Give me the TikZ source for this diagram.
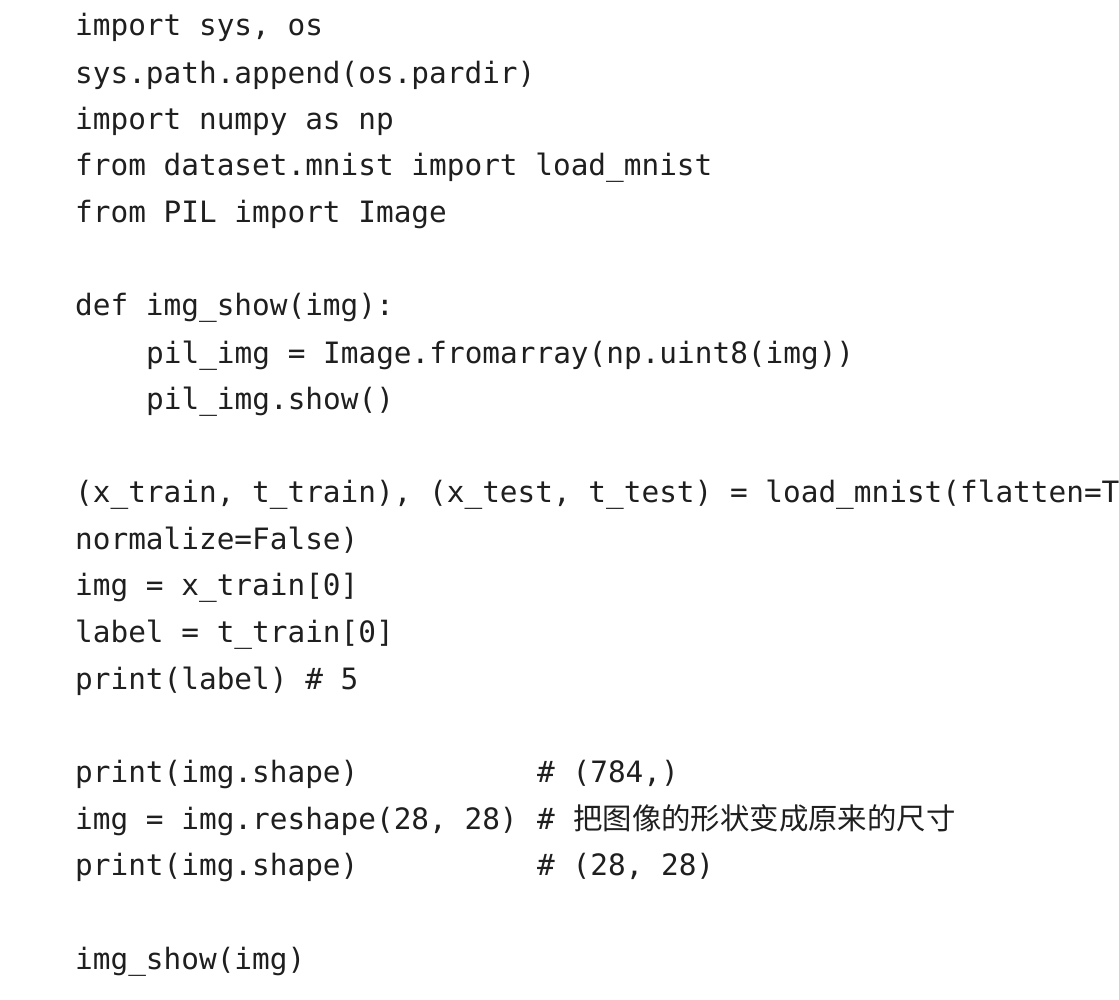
\documentclass[tikz,border=0pt]{standalone}
\usepackage{fontspec}
\setmonofont{DejaVu Sans Mono}
\newfontfamily\cjk{Noto Sans CJK SC}
\begin{document}
\begin{tikzpicture}[x=1pt,y=-1pt,
  code/.style={anchor=base west,inner sep=0pt,text=black!88,font=\fontsize{29.4}{35}\selectfont\ttfamily}]
\useasboundingbox (0,0) rectangle (1119,999);
\clip (0,0) rectangle (1119,999);
\node[code] (l1) at (75,35) {import sys, os};
\node[code] (l2) at (75,83) {sys.path.append(os.pardir)};
\node[code] (l3) at (75,129) {import numpy as np};
\node[code] (l4) at (75,175) {from dataset.mnist import load\_mnist};
\node[code] (l5) at (75,222) {from PIL import Image};
\node[code] (l6) at (75,315) {def img\_show(img):};
\node[code] (l7) at (146,363) {pil\_img = Image.fromarray(np.uint8(img))};
\node[code] (l8) at (146,409) {pil\_img.show()};
\node[code] (l9) at (75,502) {(x\_train, t\_train), (x\_test, t\_test) = load\_mnist(flatten=True,};
\node[code] (l10) at (75,549) {normalize=False)};
\node[code] (l11) at (75,595) {img = x\_train[0]};
\node[code] (l12) at (75,642) {label = t\_train[0]};
\node[code] (l13) at (75,689) {print(label) \# 5};
\node[code] (l14) at (75,782) {print(img.shape)};
\node[code] (c14) at (537,782) {\# (784,)};
\node[code] (l15) at (75,829) {img = img.reshape(28, 28)};
\node[code] (c15) at (537,829) {\#};
\node[code,font=\fontsize{29.4}{35}\selectfont\cjk] (z15) at (573,829) {把图像的形状变成原来的尺寸};
\node[code] (l16) at (75,875) {print(img.shape)};
\node[code] (c16) at (537,875) {\# (28, 28)};
\node[code] (l17) at (75,969) {img\_show(img)};
\end{tikzpicture}
\end{document}
